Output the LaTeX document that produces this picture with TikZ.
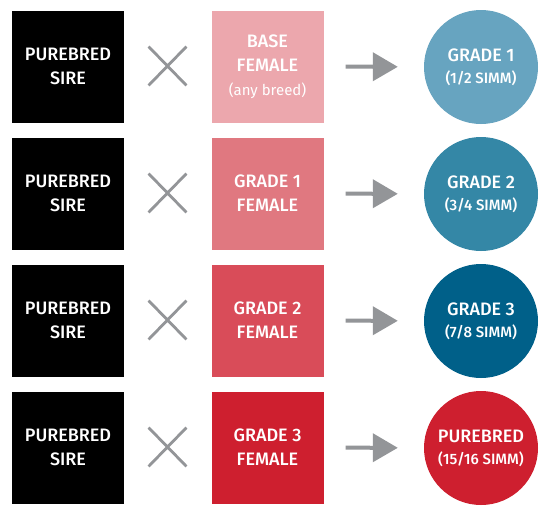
\documentclass[tikz,border=0pt]{standalone}
\usepackage{fontspec}
\setmainfont{Fira Sans}[BoldFont={Fira Sans Medium}]
\usetikzlibrary{arrows.meta,shapes.misc}
\definecolor{xgray}{HTML}{939598}
\definecolor{fpinkA}{HTML}{ECA7AD}
\definecolor{fpinkB}{HTML}{E07880}
\definecolor{fpinkC}{HTML}{D94C59}
\definecolor{fredD}{HTML}{CE1F2F}
\definecolor{cblueA}{HTML}{67A4C0}
\definecolor{cblueB}{HTML}{3487A6}
\definecolor{cblueC}{HTML}{006089}
\tikzset{
  sq/.style={minimum width=112pt, minimum height=112pt, inner sep=0pt, text=white, align=center,
    font=\fontsize{18}{24}\selectfont\bfseries},
  circ/.style={circle, minimum size=114pt, inner sep=0pt, text=white, align=center,
    font=\fontsize{18}{22}\selectfont\bfseries},
  crs/.style={cross out, draw=xgray, line width=2.8pt, minimum width=35pt, minimum height=36pt, inner sep=0pt},
  arr/.style={draw=xgray, line width=4pt, -{Triangle[length=25pt,width=28pt]}, shorten <=22pt, shorten >=26pt}
}
\newcommand{\subtxt}[1]{{\fontsize{15}{16}\selectfont #1}}
\begin{document}
\begin{tikzpicture}[x=1pt,y=-1pt]
\useasboundingbox (0,0) rectangle (548,517);
\fill[white] (0,0) rectangle (548,517);
% row 1
\node[sq, fill=black] (s1) at (68,66.5) {PUREBRED\\SIRE};
\node[crs] (x1) at (167.5,66) {};
\node[sq, fill=fpinkA] (f1) at (267.5,66.5) {BASE\\FEMALE\\{\mdseries\fontsize{15}{16}\selectfont (any breed)}};
\node[circ, fill=cblueA] (o1) at (481,67) {GRADE 1\\\subtxt{(1/2 SIMM)}};
\draw[arr] (f1) -- (o1);
% row 2
\node[sq, fill=black] (s2) at (68,193.5) {PUREBRED\\SIRE};
\node[crs] (x2) at (167.5,193) {};
\node[sq, fill=fpinkB] (f2) at (267.5,193.5) {GRADE 1\\FEMALE};
\node[circ, fill=cblueB] (o2) at (481,194) {GRADE 2\\\subtxt{(3/4 SIMM)}};
\draw[arr] (f2) -- (o2);
% row 3
\node[sq, fill=black] (s3) at (68,320.5) {PUREBRED\\SIRE};
\node[crs] (x3) at (167.5,320) {};
\node[sq, fill=fpinkC] (f3) at (267.5,320.5) {GRADE 2\\FEMALE};
\node[circ, fill=cblueC] (o3) at (481,321) {GRADE 3\\\subtxt{(7/8 SIMM)}};
\draw[arr] (f3) -- (o3);
% row 4
\node[sq, fill=black] (s4) at (68,447.5) {PUREBRED\\SIRE};
\node[crs] (x4) at (167.5,447) {};
\node[sq, fill=fredD] (f4) at (267.5,447.5) {GRADE 3\\FEMALE};
\node[circ, fill=fredD] (o4) at (481,448) {PUREBRED\\\subtxt{(15/16 SIMM)}};
\draw[arr] (f4) -- (o4);
\end{tikzpicture}
\end{document}
